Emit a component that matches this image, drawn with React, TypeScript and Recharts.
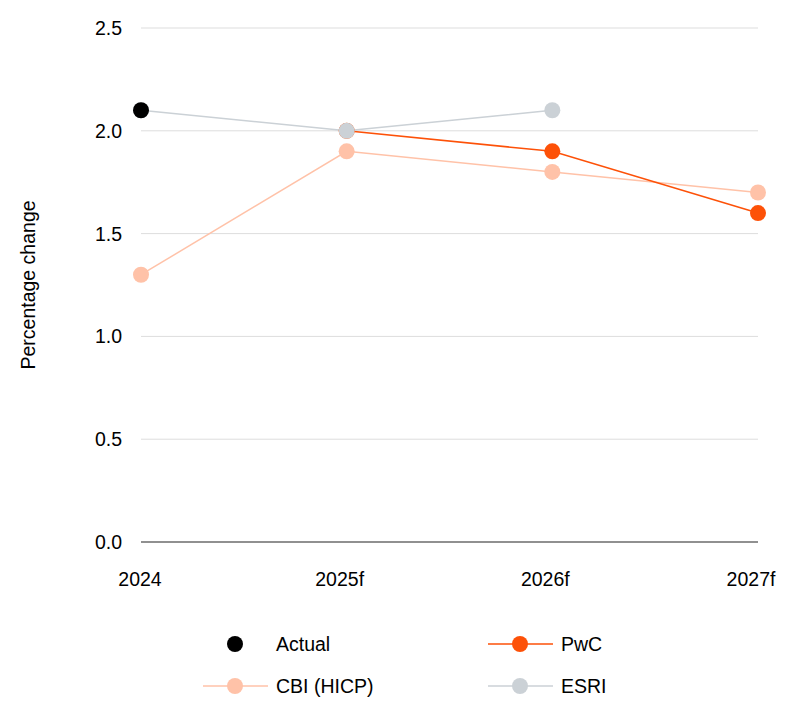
import React from 'react';
import { LineChart, Line, XAxis, YAxis, CartesianGrid, Legend } from 'recharts';

const categories = ['2024', '2025f', '2026f', '2027f'];
const actualValues = [2.1, null, null, null];
const pwcValues = [null, 2.0, 1.9, 1.6];
const cbiValues = [1.3, 1.9, 1.8, 1.7];
const esriValues = [2.1, 2.0, 2.1, null];
const yTicks = [0, 0.5, 1.0, 1.5, 2.0, 2.5];

const COLORS = {
  actual: '#000000',
  pwc: '#fd5108',
  cbi: '#ffc2a8',
  esri: '#cbd1d6',
};

const data = categories.map((c, i) => ({
  year: c,
  actual: actualValues[i],
  pwc: pwcValues[i],
  cbi: cbiValues[i],
  esri: esriValues[i],
}));

const FONT = '"Liberation Sans", Arial, Helvetica, sans-serif';
const FS = 19.5;

const legendItems = [
  { label: 'Actual', color: COLORS.actual, line: false, col: 0, row: 0 },
  { label: 'PwC', color: COLORS.pwc, line: true, col: 1, row: 0 },
  { label: 'CBI (HICP)', color: COLORS.cbi, line: true, col: 0, row: 1 },
  { label: 'ESRI', color: COLORS.esri, line: true, col: 1, row: 1 },
];

const colX = [227, 512];
const rowY = [44, 86];

const CustomLegend = () => (
  <svg width={792} height={112} style={{ display: 'block' }}>
    {legendItems.map((it) => {
      const cx = colX[it.col];
      const cy = rowY[it.row];
      return (
        <g key={it.label}>
          {it.line && (
            <line x1={cx - 32} x2={cx + 33} y1={cy} y2={cy} stroke={it.color} strokeWidth={1.5} />
          )}
          <circle cx={cx} cy={cy} r={8} fill={it.color} />
          <text x={cx + 41} y={cy} dy="0.35em" fontSize={FS} fontFamily={FONT} fill="#000">
            {it.label}
          </text>
        </g>
      );
    })}
  </svg>
);

const XTick = (props: any) => {
  const { x, y, payload, index } = props;
  const shift = index === 0 ? -1 : -7;
  return (
    <text
      x={x + shift}
      y={y}
      dy="0.71em"
      textAnchor="middle"
      fontSize={FS}
      fontFamily={FONT}
      fill="#000"
    >
      {payload.value}
    </text>
  );
};

export default function App() {
  return (
    <LineChart
      width={792}
      height={704}
      data={data}
      margin={{ top: 20, right: 42, left: 0, bottom: 0 }}
      style={{ fontFamily: FONT }}
    >
      <CartesianGrid vertical={false} stroke="#dddddd" strokeWidth={1} />
      <XAxis
        dataKey="year"
        axisLine={{ stroke: '#333333', strokeWidth: 1.2 }}
        tickLine={false}
        tickSize={0}
        tickMargin={30}
        height={58}
        interval={0}
        tick={<XTick />}
      />
      <YAxis
        width={133}
        domain={[0, 2.5]}
        ticks={yTicks}
        tickFormatter={(v: number) => v.toFixed(1)}
        axisLine={false}
        tickLine={false}
        tickSize={0}
        tickMargin={19}
        tick={{ fill: '#000', fontSize: FS, fontFamily: FONT }}
        label={{
          value: 'Percentage change',
          angle: -90,
          position: 'insideLeft',
          offset: 20,
          style: { textAnchor: 'middle', fill: '#000', fontSize: FS, fontFamily: FONT },
        }}
      />
      <Legend
        verticalAlign="bottom"
        height={112}
        wrapperStyle={{ left: 0, width: 792 }}
        content={() => <CustomLegend />}
      />
      <Line
        dataKey="cbi"
        stroke={COLORS.cbi}
        strokeWidth={1.5}
        dot={{ r: 8, fill: COLORS.cbi, stroke: 'none' }}
        activeDot={false}
        isAnimationActive={false}
      />
      <Line
        dataKey="pwc"
        stroke={COLORS.pwc}
        strokeWidth={1.5}
        dot={{ r: 8, fill: COLORS.pwc, stroke: 'none' }}
        activeDot={false}
        isAnimationActive={false}
      />
      <Line
        dataKey="esri"
        stroke={COLORS.esri}
        strokeWidth={1.5}
        dot={{ r: 8, fill: COLORS.esri, stroke: 'none' }}
        activeDot={false}
        isAnimationActive={false}
      />
      <Line
        dataKey="actual"
        stroke="none"
        strokeWidth={0}
        dot={{ r: 8, fill: COLORS.actual, stroke: 'none' }}
        activeDot={false}
        isAnimationActive={false}
      />
    </LineChart>
  );
}
